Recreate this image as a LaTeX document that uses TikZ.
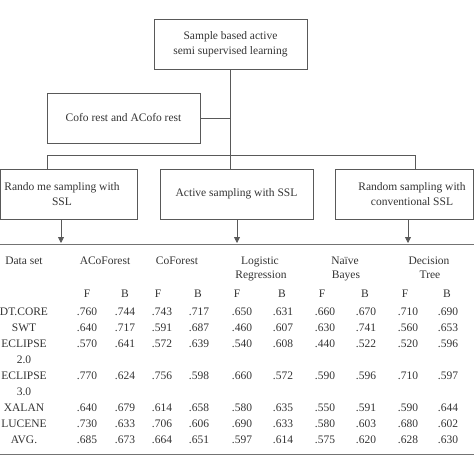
\documentclass[tikz,border=0pt]{standalone}
\usepackage{fontspec}
\setmainfont{Liberation Serif}
\usetikzlibrary{arrows.meta}
\newcommand\mydatarow[4]{%
  \node[cell] (lab#4) at (24,#1) {#2};
  \foreach \v [count=\i from 0] in {#3} {%
    \pgfmathsetmacro\cx{{87,125,162,199,242,283,325,366,408,448}[\i]}%
    \node[cell] (v#4-\i) at (\cx,#1) {\v};
  }%
}
\begin{document}
\begin{tikzpicture}[x=1pt,y=-1pt,
  line/.style={draw=black!65, line width=0.8pt},
  box/.style={line, rectangle, inner sep=0pt},
  txt/.style={text=black!80, font=\fontsize{11.5}{15}\selectfont, align=center, inner sep=0pt},
  cell/.style={text=black!80, font=\fontsize{11.5}{15}\selectfont, inner sep=0pt, anchor=base},
  arr/.style={line, -{Triangle[width=6pt,length=6pt]}},
  rulestyle/.style={draw=black!55, line width=1pt}]
\useasboundingbox (0,0) rectangle (474,474);
% boxes
\node[box, minimum width=153pt, minimum height=50pt, txt] (top) at (230.5,44) {Sample based active\\semi supervised learning};
\node[box, minimum width=153pt, minimum height=50pt, txt] (cofo) at (123.5,118) {Cofo rest and ACofo rest};
\node[box, minimum width=136.5pt, minimum height=50pt] (b1) at (68.75,194) {};
\node[txt] (t1) at (62,194) {Rando me sampling with\\SSL};
\node[box, minimum width=153pt, minimum height=50pt, txt] (b2) at (236.5,194) {Active sampling with SSL};
\node[box, minimum width=138.5pt, minimum height=50pt] (b3) at (404.25,194) {};
\node[txt] (t3) at (412,194) {Random sampling with\\conventional SSL};
% connectors
\coordinate (h1) at (47,155);
\coordinate (h3) at (415,155);
\draw[line] (top.south) -- (top.south |- b2.north);
\draw[line] (cofo.east) -- (cofo.east -| top.south);
\draw[line] (b1.north -| h1) -- (h1) -- (h3) -- (b3.north -| h3);
\coordinate (a1) at (61,243);
\coordinate (a2) at (237,243);
\coordinate (a3) at (408,243);
\draw[arr] (b1.south -| a1) -- (a1);
\draw[arr] (b2.south -| a2) -- (a2);
\draw[arr] (b3.south -| a3) -- (a3);
% rules
\coordinate (r1l) at (0,244);
\coordinate (r1r) at (474,244);
\coordinate (r2l) at (0,454);
\coordinate (r2r) at (474,454);
\draw[rulestyle] (r1l) -- (r1r);
\draw[rulestyle] (r2l) -- (r2r);
% header
\node[cell] (hds) at (24,264) {Data set};
\node[cell] (hac) at (105,264) {ACoForest};
\node[cell] (hco) at (177,264) {CoForest};
\node[cell] (hlr1) at (260,264) {Logistic};
\node[cell] (hlr2) at (261,278) {Regression};
\node[cell] (hnb1) at (345,264) {Naïve};
\node[cell] (hnb2) at (346,278) {Bayes};
\node[cell] (hdt1) at (429,264) {Decision};
\node[cell] (hdt2) at (430,278) {Tree};
\foreach \x/\l [count=\k] in {87/F,125/B,158/F,198/B,237/F,282/B,322/F,365/B,405/F,447/B}
  \node[cell] (fb\k) at (\x,297) {\l};
% data
\mydatarow{315}{DT.CORE}{.760,.744,.743,.717,.650,.631,.660,.670,.710,.690}{1}
\mydatarow{331}{SWT}{.640,.717,.591,.687,.460,.607,.630,.741,.560,.653}{2}
\mydatarow{347}{ECLIPSE}{.570,.641,.572,.639,.540,.608,.440,.522,.520,.596}{3}
\node[cell] (v20) at (24,363) {2.0};
\mydatarow{379}{ECLIPSE}{.770,.624,.756,.598,.660,.572,.590,.596,.710,.597}{4}
\node[cell] (v30) at (24,395) {3.0};
\mydatarow{411}{XALAN}{.640,.679,.614,.658,.580,.635,.550,.591,.590,.644}{5}
\mydatarow{427}{LUCENE}{.730,.633,.706,.606,.690,.633,.580,.603,.680,.602}{6}
\mydatarow{443}{AVG.}{.685,.673,.664,.651,.597,.614,.575,.620,.628,.630}{7}
\end{tikzpicture}
\end{document}
